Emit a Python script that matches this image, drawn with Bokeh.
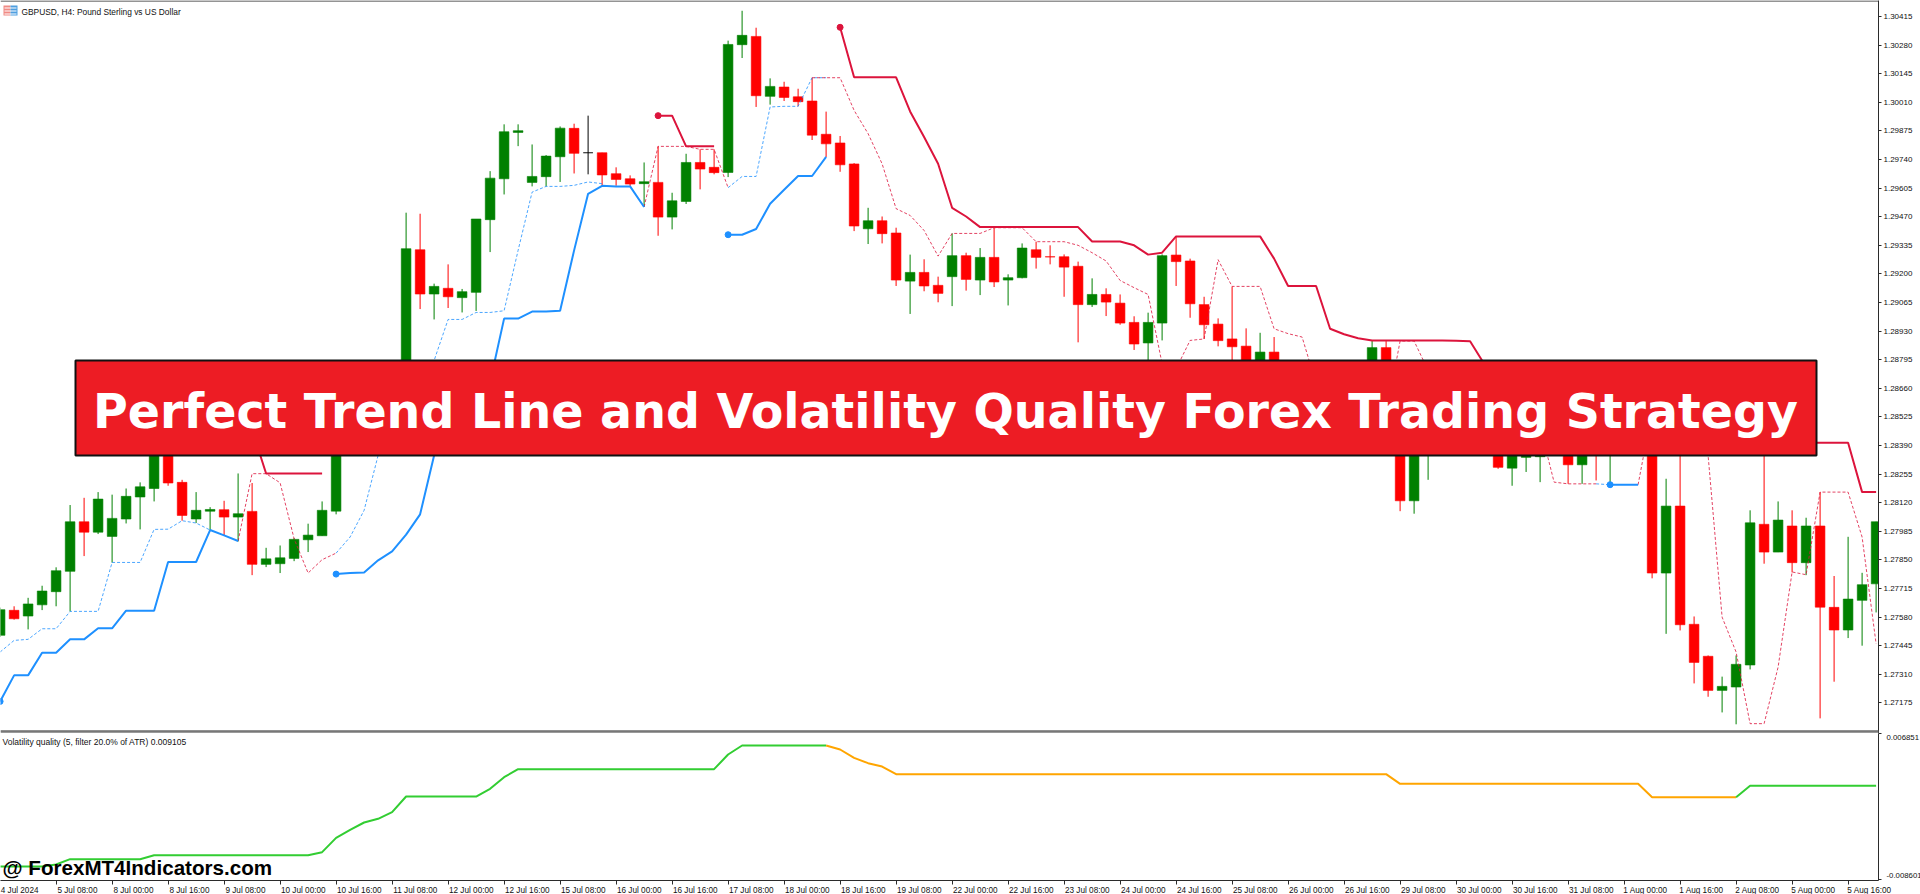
from bokeh.embed import file_html
from bokeh.resources import INLINE
from bokeh.layouts import column
from bokeh.models import (BoxAnnotation, ColumnDataSource, FixedTicker, Label, LinearAxis,
                          PrintfTickFormatter, Range1d)
from bokeh.plotting import figure

# Prices are written in 1e-5 units: 127494 means 1.27494. Index = H4 bar number.
opens = [127494,127612,127585,127638,127700,127796,128030,127981,127961,128043,128147,128187,128620,128216,128043,128080,128087,128052,128079,127829,127832,127857,127945,127964,128080,
128461,128500,128580,128530,128630,129314,129105,129132,129088,129113,129456,129649,129868,129632,129659,129753,129887,129772,129772,129673,129649,129626,129632,129468,129542,
129726,129703,129679,130282,130321,130038,130082,130036,130016,129859,129818,129719,129413,129451,129393,129166,129207,129146,129187,129286,129171,129278,129171,129182,129314,
129281,129281,129236,129055,129103,129062,128971,128874,128968,129289,129261,129055,128963,128893,128859,128690,128831,128630,128580,128640,128565,128510,128600,128720,128852,
128700,128129,128400,128460,128400,128380,128420,128390,128283,128334,128337,128400,128390,128299,128440,128410,128450,128420,128500,127788,128104,127546,127395,127234,127250,
127354,128018,127887,128010,127837,128010,127626,127519,127659,127737]
highs = [127625,127631,127671,127728,127815,128109,128143,128170,128158,128187,128216,128660,128650,128228,128170,128099,128129,128258,128213,127907,127918,127953,128021,128126,128490,
128520,128600,128620,128660,129489,129484,129154,129245,129129,129459,129685,129906,129906,129811,129761,129896,129909,129947,129772,129703,129665,129726,129802,129583,129767,
129788,129788,130301,130442,130362,130123,130107,130074,130126,129966,129851,129723,129512,129471,129418,129291,129269,129187,129391,129300,129322,129418,129198,129344,129352,
129335,129292,129258,129179,129132,129103,129000,129017,129292,129374,129272,129092,128990,129140,128943,128922,128902,128680,128680,128670,128590,128630,128750,128883,128883,
128740,128730,128520,128500,128440,128450,128450,128430,128420,128420,128430,128440,128430,128430,128480,128490,128490,128500,128520,128233,128380,127583,127399,127299,127399,
128084,128450,128126,128084,128049,128170,127774,127959,127789,128030]
lows = [127486,127568,127522,127613,127631,127607,127868,127972,127837,128022,127994,128126,128200,128035,128024,127989,127966,127937,127778,127816,127788,127844,127887,127964,128065,
128440,128480,128500,128510,128600,129034,128985,129039,129018,129025,129303,129575,129803,129613,129613,129634,129674,129670,129616,129616,129613,129516,129380,129410,129530,
129599,129670,129657,130219,129988,129999,130016,129991,129832,129752,129682,129402,129341,129344,129143,129011,129118,129066,129048,129121,129100,129138,129051,129179,129225,
129245,129092,128877,129044,129001,128960,128841,128790,128886,129143,128993,128893,128858,128700,128640,128650,128600,128550,128560,128540,128480,128490,128580,128690,128660,
128080,128068,128228,128360,128350,128350,128350,128280,128200,128265,128217,128350,128209,128209,128225,128209,128370,128380,127763,127501,127517,127267,127204,127130,127074,
127333,127832,127887,127791,127778,127102,127275,127481,127445,127602]
closes = [127615,127572,127642,127703,127799,128030,127981,128137,128046,128150,128195,128626,128213,128060,128084,128088,128052,128068,127829,127855,127860,127947,127967,128084,128461,
128500,128580,128530,128630,129319,129105,129141,129092,129116,129459,129652,129871,129876,129660,129756,129888,129769,129772,129667,129646,129624,129635,129468,129545,129726,
129695,129678,130283,130326,130041,130085,130033,130013,129855,129814,129715,129426,129451,129390,129171,129207,129143,129108,129286,129174,129278,129162,129182,129322,129278,
129280,129232,129055,129103,129067,128968,128869,128971,129286,129258,129059,128960,128885,128856,128680,128831,128630,128580,128640,128565,128510,128600,128720,128852,128700,
128129,128700,128460,128400,128380,128420,128380,128287,128380,128385,128390,128370,128299,128380,128400,128450,128420,128470,127788,128104,127544,127366,127234,127253,127357,
128025,127887,128038,127837,128010,127627,127519,127665,127733,128030]

# Perfect Trend Line: each piece is a start bar and its values.
blue_solid_a_start = 0
blue_solid_a = [127182,127305,127305,127412,127412,127475,127475,127527,127527,127610,127610,127610,127840,127840,127840,127991,127966,127939]
blue_solid_b_start = 24
blue_solid_b = [127783,127788,127791,127848,127890,127969,128065,128343,128420,128510,128600,128690,128989,128989,129022,129022,129026,129311,129578,129616,129613,129613,129516]
blue_solid_c_start = 52
blue_solid_c = [129385,129385,129412,129531,129597,129662,129662,129752]
blue_solid_d_start = 115
blue_solid_d = [128205,128205,128205]

blue_dash_a_start = 0
blue_dash_a = [127415,127470,127475,127525,127525,127607,127607,127607,127838,127838,127838,127994,127995,128035,128024,127991]
blue_dash_b_start = 24
blue_dash_b = [127882,127958,128084,128343,128461,128555,128673,128791,128985,128985,129018,129018,129026,129311,129586,129613,129613,129618,129634,129626]
blue_dash_c_start = 52
blue_dash_c = [129607,129660,129660,129988,129991,129991,130126,130126]
blue_dash_d_start = 114
blue_dash_d = [128209,128205]

red_solid_a_start = 17
red_solid_a = [128603,128464,128258,128258,128258,128258,128258]
red_solid_b_start = 47
red_solid_b = [129947,129947,129802,129802,129802]
red_solid_c_start = 60
red_solid_c = [130364,130128,130128,130128,130128,129967,129846,129720,129512,129471,129421,129421,129421,129421,129421,129421,129421,129421,
129353,129353,129353,129335,129291,129300,129377,129377,129377,129377,129377,129377,129377,129272,129143,129143,129143,128941,128915,128896,
128886,128886,128886,128886,128886,128886,128885,128882,128776,128673,128579,128508,128485,128485,128485,128485,128485]
red_solid_d_start = 118
red_solid_d = [128744,128650,128555,128485,128403,128403,128403,128403,128403,128403,128403,128403,128403,128403,128403,128170,128170]

red_dash_a_start = 17
red_dash_a = [127939,128257,128257,128214,127950,127788,127851,127882]
red_dash_b_start = 46
red_dash_b = [129516,129802,129802,129802,129788,129788,129607]
red_dash_c_start = 58
red_dash_c = [130126,130126,130126,129972,129862,129720,129508,129476,129405,129284,129391,129391,129391,129418,129418,129418,129352,129352,129352,
129335,129300,129261,129169,129135,129103,128776,128752,128886,128893,129267,129141,129141,129141,128941,128918,128902,128682,128603,128508,128485,
128500,128532,128883,128883,128745,128673,128603,128580,128560,128540,128520,128500,128480,128217,128209,128209,128209]
red_dash_d_start = 117
red_dash_d = [128205,128556,128650,128700,128500,128343,127580,127415,127077,127077,127344,127793,127780,128170,128170,128170,127958,127454]

# Volatility quality
vq_green_a = [-0.007226]*4 + [-0.007014] + [-0.006449]*6 + [-0.006026]*12 + [-0.005709,-0.004192,-0.003345,-0.002569,-0.002181,-0.001475] + [0.000183]*6 + [0.000995,0.002229] + [0.003076]*15 + [0.004628] + [0.005581]*7
vq_orange_start = 59
vq_orange = [0.005581,0.005158,0.004276,0.003711,0.003358] + [0.002547]*36 + [0.001524]*18 + [0.000113]*7
vq_green_b_start = 124
vq_green_b = [0.000113] + [0.001312]*10

price_ticks = [1.30415,1.30280,1.30145,1.30010,1.29875,1.29740,1.29605,1.29470,1.29335,1.29200,1.29065,1.28930,1.28795,1.28660,1.28525,1.28390,1.28255,1.28120,1.27985,1.27850,1.27715,1.27580,1.27445,1.27310,1.27175]
time_tick_bars = list(range(0, 133, 4))
time_labels = ["4 Jul 2024","5 Jul 08:00","8 Jul 00:00","8 Jul 16:00","9 Jul 08:00","10 Jul 00:00","10 Jul 16:00","11 Jul 08:00","12 Jul 00:00","12 Jul 16:00","15 Jul 08:00","16 Jul 00:00","16 Jul 16:00","17 Jul 08:00","18 Jul 00:00","18 Jul 16:00","19 Jul 08:00","22 Jul 00:00","22 Jul 16:00","23 Jul 08:00","24 Jul 00:00","24 Jul 16:00","25 Jul 08:00","26 Jul 00:00","26 Jul 16:00","29 Jul 08:00","30 Jul 00:00","30 Jul 16:00","31 Jul 08:00","1 Aug 00:00","1 Aug 16:00","2 Aug 08:00","5 Aug 00:00","5 Aug 16:00"]
vq_top, vq_bottom = 0.006851, -0.008601

TITLE = "GBPUSD, H4:  Pound Sterling vs US Dollar"
VQ_TITLE = "Volatility quality (5, filter 20.0% of ATR) 0.009105"
BANNER = "Perfect Trend Line and Volatility Quality Forex Trading Strategy"
WATERMARK = "@ ForexMT4Indicators.com"

TINY = "Liberation Sans"
DARK = "#2b2b2b"
G, R = "#008000", "#ff0000"
BLUE, CRIMSON = "#1e90ff", "#dc143c"
LIME, ORANGE = "#32cd32", "#ffa500"
PT = 1e-5

FRAME_W = 1878
MAIN_H = 733
x_range = Range1d(0.4 / 14, (FRAME_W + 0.4) / 14)


def scr(fig_h, y):
    return fig_h - y


main = figure(width=1920, height=MAIN_H, frame_width=FRAME_W, frame_height=MAIN_H, output_backend="svg",
              toolbar_location=None, x_range=x_range,
              y_range=Range1d(1.30415 - 717 * 0.00135 / 28.6, 1.30415 + 16 * 0.00135 / 28.6),
              x_axis_location=None, y_axis_location=None, min_border_left=0, min_border_right=0,
              min_border_top=0, min_border_bottom=0, outline_line_color=None)
main.grid.visible = False

n = len(opens)
idx = list(range(n))
o = [v * PT for v in opens]; h = [v * PT for v in highs]; l = [v * PT for v in lows]; c = [v * PT for v in closes]
col = [G if closes[i] > opens[i] else (R if closes[i] < opens[i] else "#000000") for i in idx]
src = ColumnDataSource(dict(x=idx, o=o, h=h, l=l, c=c, top=[max(a, b) for a, b in zip(o, c)],
                            bot=[min(a, b) for a, b in zip(o, c)], col=col))
main.segment("x", "h", "x", "l", source=src, line_color="col", line_width=1)
main.vbar("x", 0.69, "bot", "top", source=src, fill_color="col", line_color="col", line_width=1, line_alpha=0.6)


def piece(start, vals):
    return list(range(start, start + len(vals))), [v * PT for v in vals]


for s, v in [(blue_dash_a_start, blue_dash_a), (blue_dash_b_start, blue_dash_b), (blue_dash_c_start, blue_dash_c), (blue_dash_d_start, blue_dash_d)]:
    main.line(*piece(s, v), line_color=BLUE, line_width=1, line_dash="3 2", line_alpha=0.8)
for s, v in [(red_dash_a_start, red_dash_a), (red_dash_b_start, red_dash_b), (red_dash_c_start, red_dash_c), (red_dash_d_start, red_dash_d)]:
    main.line(*piece(s, v), line_color=CRIMSON, line_width=1, line_dash="3 2", line_alpha=0.8)
for s, v in [(blue_solid_a_start, blue_solid_a), (blue_solid_b_start, blue_solid_b), (blue_solid_c_start, blue_solid_c), (blue_solid_d_start, blue_solid_d)]:
    xs, ys = piece(s, v)
    main.line(xs, ys, line_color=BLUE, line_width=2)
    main.scatter(xs[:1], ys[:1], size=6, fill_color=BLUE, line_color=BLUE)
for s, v in [(red_solid_a_start, red_solid_a), (red_solid_b_start, red_solid_b), (red_solid_c_start, red_solid_c), (red_solid_d_start, red_solid_d)]:
    xs, ys = piece(s, v)
    main.line(xs, ys, line_color=CRIMSON, line_width=2)
    main.scatter(xs[:1], ys[:1], size=6, fill_color=CRIMSON, line_color=CRIMSON)

axis = LinearAxis(ticker=FixedTicker(ticks=price_ticks), formatter=PrintfTickFormatter(format="%.5f"),
                  axis_line_color=DARK, major_tick_line_color=DARK, major_tick_out=3, major_tick_in=0,
                  minor_tick_out=0, minor_tick_in=0, major_label_text_font=TINY, major_label_text_font_size="8px",
                  major_label_text_color="#111111", major_label_standoff=2)
main.add_layout(axis, "right")


def hbox(fig, x0, x1, y0, y1, color, fig_h=MAIN_H, line=None, w=0):
    fig.add_layout(BoxAnnotation(left=x0, right=x1, top=scr(fig_h, y0), bottom=scr(fig_h, y1),
                                 left_units="screen", right_units="screen", top_units="screen", bottom_units="screen",
                                 fill_color=color, fill_alpha=1, line_color=line, line_width=w, line_alpha=1 if line else 0,
                                 level="overlay"))


hbox(main, 0, FRAME_W, 0, 1, DARK)                      # top rule
hbox(main, 0, FRAME_W, 730, 733, "#9a9a9a")             # pane separator
hbox(main, 0, FRAME_W, 730, 731, "#555555")
hbox(main, 75, 1816, 360, 455, "#ed1c24", line="#111111", w=2)  # banner

# symbol icon
hbox(main, 3, 10, 5, 15, "#f08a84")
hbox(main, 10, 17, 5, 15, "#4f9fe0")
for yy in (7, 10, 13):
    hbox(main, 4, 16, yy, yy + 1, "#ffffff")

main.add_layout(Label(x=21, y=scr(MAIN_H, 11), x_units="screen", y_units="screen", text=TITLE, text_font=TINY,
                      text_font_size="8.4px", text_color="#111111", text_baseline="middle", text_align="left"))
main.add_layout(Label(x=945, y=scr(MAIN_H, 411), x_units="screen", y_units="screen", text=BANNER, text_font="DejaVu Sans",
                      text_font_style="bold", text_font_size="47.5px", text_color="#ffffff", text_baseline="middle",
                      text_align="center", level="overlay"))

# ---- lower pane
LOW_H = 161
LOW_FRAME = 147
per_px = (vq_top - vq_bottom) / 146
low = figure(width=1920, height=LOW_H, frame_width=FRAME_W, frame_height=LOW_FRAME, output_backend="svg",
             toolbar_location=None, x_range=x_range,
             y_range=Range1d(vq_bottom - per_px, vq_top), x_axis_location=None, y_axis_location=None,
             min_border_left=0, min_border_right=0, min_border_top=0, min_border_bottom=0,
             outline_line_color=None)
low.grid.visible = False
low.line(list(range(len(vq_green_a))), vq_green_a, line_color=LIME, line_width=2)
low.line(list(range(vq_orange_start, vq_orange_start + len(vq_orange))), vq_orange, line_color=ORANGE, line_width=2)
low.line(list(range(vq_green_b_start, vq_green_b_start + len(vq_green_b))), vq_green_b, line_color=LIME, line_width=2)

# tick marks sit at the bar, the label hangs to its right: major = label centre, minor = bar
centres = [b + (len(t) * 3.7 / 2 + 1.0) / 14 for b, t in zip(time_tick_bars, time_labels)]
xaxis = LinearAxis(ticker=FixedTicker(ticks=centres, minor_ticks=time_tick_bars),
                   major_label_overrides={k: t for k, t in zip(centres, time_labels)},
                   axis_line_color=DARK, major_tick_out=0, major_tick_in=0, minor_tick_out=4, minor_tick_in=0,
                   minor_tick_line_color=DARK, major_label_text_font=TINY, major_label_text_font_size="8.2px",
                   major_label_text_color="#111111", major_label_standoff=1)
low.add_layout(xaxis, "below")

val_labels = [vq_top - 4 * per_px, vq_bottom + 4 * per_px]
yaxis = LinearAxis(ticker=FixedTicker(ticks=val_labels, minor_ticks=[vq_top, vq_bottom]),
                   major_label_overrides={val_labels[0]: "0.006851", val_labels[1]: "-0.008601"},
                   axis_line_color=DARK, major_tick_out=0, major_tick_in=0, minor_tick_out=3, minor_tick_in=0,
                   minor_tick_line_color=DARK, major_label_text_font=TINY, major_label_text_font_size="7.8px",
                   major_label_text_color="#111111", major_label_standoff=5)
low.add_layout(yaxis, "right")

low.add_layout(Label(x=2, y=LOW_FRAME - 8, x_units="screen", y_units="screen", text=VQ_TITLE, text_font=TINY,
                     text_font_size="8.5px", text_color="#111111", text_baseline="middle", text_align="left"))
low.add_layout(Label(x=2, y=13, x_units="screen", y_units="screen", text=WATERMARK, text_font="Liberation Sans",
                     text_font_style="bold", text_font_size="20.6px", text_color="#000000", text_baseline="middle",
                     text_align="left", level="overlay"))

page = column(main, low, spacing=0)
open("out.html", "w").write(file_html(page, INLINE))
